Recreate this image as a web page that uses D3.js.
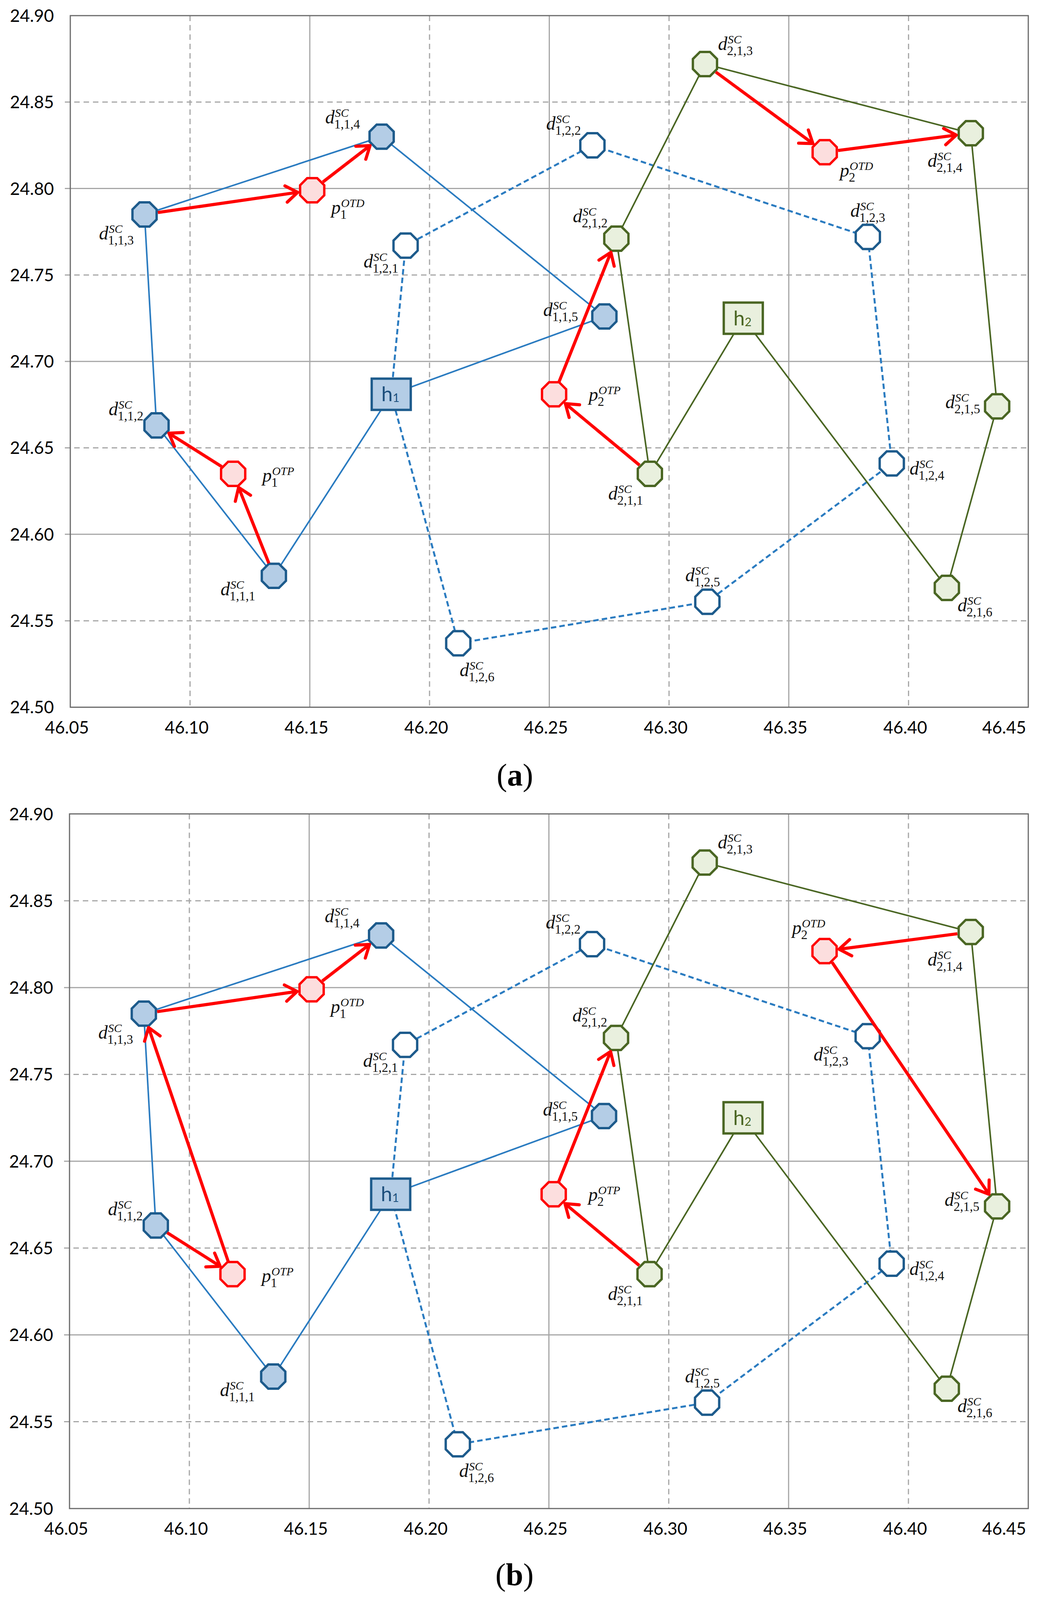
<!DOCTYPE html>
<html>
<head>
<meta charset="UTF-8">
<title>Vehicle routes with parcel transfers</title>
<script src="https://cdnjs.cloudflare.com/ajax/libs/d3/7.8.5/d3.min.js"></script>
<style>
  body { margin: 0; background: #ffffff; overflow: hidden; }
  svg { display: block; }
  .tick-label { font-family: Lato, "Open Sans", sans-serif; font-size: 44px; fill: #000; }
  .lbl-base { font-family: "Liberation Serif", serif; font-style: italic; font-size: 48px; fill: #111; }
  .lbl-sup { font-family: "Liberation Serif", serif; font-style: italic; font-size: 30px; fill: #111; }
  .lbl-sub { font-family: "Liberation Serif", serif; font-size: 33px; fill: #111; }
  .caption { font-family: "Liberation Serif", serif; font-size: 80px; fill: #000; }
</style>
</head>
<body>
<div id="draw-here"></div>
<script>

// Axis ticks
var xTicks = [46.05, 46.10, 46.15, 46.20, 46.25, 46.30, 46.35, 46.40, 46.45];
var yTicks = [24.50, 24.55, 24.60, 24.65, 24.70, 24.75, 24.80, 24.85, 24.90];

// Depots
var depotIds = ["h1", "h2"];
var depotLon = [46.184, 46.331];
var depotLat = [24.681, 24.725];

// Vehicle 1, route 1 (solid blue)
var route11Ids = ["d111", "d112", "d113", "d114", "d115"];
var route11Lon = [46.135, 46.086, 46.081, 46.180, 46.273];
var route11Lat = [24.576, 24.663, 24.785, 24.830, 24.726];

// Vehicle 1, route 2 (dashed blue)
var route12Ids = ["d121", "d122", "d123", "d124", "d125", "d126"];
var route12Lon = [46.190, 46.268, 46.383, 46.393, 46.316, 46.212];
var route12Lat = [24.767, 24.825, 24.772, 24.641, 24.561, 24.537];

// Vehicle 2, route 1 (green)
var route21Ids = ["d211", "d212", "d213", "d214", "d215", "d216"];
var route21Lon = [46.292, 46.278, 46.315, 46.426, 46.437, 46.416];
var route21Lat = [24.635, 24.771, 24.872, 24.832, 24.674, 24.569];

// Parcel pick-up / drop-off points
var parcelIds = ["p1OTP", "p1OTD", "p2OTP", "p2OTD"];
var parcelLon = [46.118, 46.151, 46.252, 46.365];
var parcelLat = [24.635, 24.799, 24.681, 24.821];

// Parcel moves (red arrows) in each panel
var movesA = [["d111", "p1OTP"], ["p1OTP", "d112"], ["d113", "p1OTD"], ["p1OTD", "d114"],
              ["d211", "p2OTP"], ["p2OTP", "d212"], ["d213", "p2OTD"], ["p2OTD", "d214"]];
var movesB = [["d112", "p1OTP"], ["p1OTP", "d113"], ["d113", "p1OTD"], ["p1OTD", "d114"],
              ["d211", "p2OTP"], ["p2OTP", "d212"], ["d214", "p2OTD"], ["p2OTD", "d215"]];

// Where each node label sits, relative to its node (px)
var labelOffsetA = {
    d111: [-92, 38], d112: [-78, -38], d113: [-72, 52], d114: [-100, -46], d115: [-112, -13],
    d121: [-63, 44], d122: [-74, -52], d123: [0, -64], d124: [90, 17], d125: [-12, -64], d126: [48, 72],
    d211: [-62, 54], d212: [-67, -54], d213: [78, -48], d214: [-66, 74], d215: [-88, -7], d216: [72, 48],
    p1OTP: [114, 8], p1OTD: [90, 48], p2OTP: [128, 5], p2OTD: [80, 50]
};
var labelOffsetB = Object.assign({}, labelOffsetA, {
    d123: [-94, 50], p2OTD: [-42, -56], d215: [-90, -13]
});

var W = 2663, H = 4199;
// the browser may show less than H; keep the whole figure in view
var fy = Math.min(1, (window.innerHeight || H) / H);

var panels = [
    { left: 180, right: 2633, top: 41, bottom: 1856, captionY: 2062, letter: "a", moves: movesA, offsets: labelOffsetA },
    { left: 178, right: 2633, top: 2136, bottom: 3959, captionY: 4160, letter: "b", moves: movesB, offsets: labelOffsetB }
];

var blueLine = "#2a7bc0", blueDark = "#1d5b8c", blueFill = "#b4cde6";
var greenLine = "#4a6623", greenFill = "#e9f0de";
var red = "#ff0000", redFill = "#fcdede";
var gridColor = "#a6a6a6";

var svg = d3.select("#draw-here")
    .append("svg")
    .attr("width", W)
    .attr("height", Math.floor(H * fy));

// Open chevron arrow head
svg.append("defs").append("marker")
    .attr("id", "chev")
    .attr("markerUnits", "userSpaceOnUse")
    .attr("viewBox", "-42 -30 50 60")
    .attr("markerWidth", 50)
    .attr("markerHeight", 60)
    .attr("refX", 0)
    .attr("refY", 0)
    .attr("orient", "auto")
    .append("path")
    .attr("d", "M-30,-21 L0,0 L-30,21")
    .attr("fill", "none")
    .attr("stroke", red)
    .attr("stroke-width", 8)
    .attr("stroke-linecap", "round")
    .attr("stroke-linejoin", "round");

var R = 33.5;   // octagon radius

function octagon(r) {
    var pts = d3.range(8).map(function(k) {
        var a = Math.PI / 8 + k * Math.PI / 4;
        return [r * Math.cos(a), r * Math.sin(a)];
    });
    return "M" + pts.join("L") + "Z";
}

function labelParts(id) {
    if (id[0] === "d")
        return ["d", "SC", id.slice(1).split("").join(",")];
    return ["p", id.slice(2), id[1]];
}

function buildPoints(ids, lon, lat) {
    return ids.map(function(id, i) { return { id: id, lon: lon[i], lat: lat[i] }; });
}

var depots = buildPoints(depotIds, depotLon, depotLat);
var route11 = buildPoints(route11Ids, route11Lon, route11Lat);
var route12 = buildPoints(route12Ids, route12Lon, route12Lat);
var route21 = buildPoints(route21Ids, route21Lon, route21Lat);
var parcels = buildPoints(parcelIds, parcelLon, parcelLat);

var lookup = {};
[depots, route11, route12, route21, parcels].forEach(function(list) {
    list.forEach(function(p) { lookup[p.id] = p; });
});

panels.forEach(drawPanel);

function drawPanel(p) {
    var top = p.top * fy, bottom = p.bottom * fy;
    var x = d3.scaleLinear().domain([46.05, 46.45]).range([p.left, p.right]);
    var y = d3.scaleLinear().domain([24.50, 24.90]).range([bottom, top]);
    var g = svg.append("g");

    // Grid lines: solid every 0.10, dashed in between
    g.selectAll(".vgrid").data(xTicks.slice(1, -1)).enter().append("line")
        .attr("x1", function(d) { return x(d); })
        .attr("x2", function(d) { return x(d); })
        .attr("y1", top).attr("y2", bottom)
        .attr("stroke", gridColor).attr("stroke-width", 3)
        .attr("stroke-dasharray", function(d, i) { return i % 2 === 0 ? "14,10" : null; });

    g.selectAll(".hgrid").data(yTicks.slice(1, -1)).enter().append("line")
        .attr("x1", p.left - 14).attr("x2", p.right)
        .attr("y1", function(d) { return y(d); })
        .attr("y2", function(d) { return y(d); })
        .attr("stroke", gridColor).attr("stroke-width", 3)
        .attr("stroke-dasharray", function(d, i) { return i % 2 === 0 ? "14,10" : null; });

    // Frame
    g.append("rect")
        .attr("x", p.left).attr("y", top)
        .attr("width", p.right - p.left).attr("height", bottom - top)
        .attr("fill", "none").attr("stroke", "#6a6a6a").attr("stroke-width", 3);

    // Axes (labels only)
    var yAxis = g.append("g")
        .attr("transform", "translate(" + p.left + ",0)")
        .call(d3.axisLeft(y).tickValues(yTicks).tickFormat(d3.format(".2f")).tickSize(0).tickPadding(42));
    var xAxis = g.append("g")
        .attr("transform", "translate(0," + bottom + ")")
        .call(d3.axisBottom(x).tickValues(xTicks).tickFormat(d3.format(".2f")).tickSize(0).tickPadding(36));
    [xAxis, yAxis].forEach(function(a) {
        a.select(".domain").remove();
        a.selectAll("text").attr("class", "tick-label").attr("font-size", null).attr("font-family", null);
    });
    xAxis.selectAll("text").attr("dx", -9);
    yAxis.selectAll("text").attr("dy", "0.35em");
    // keep the last x label inside the picture
    xAxis.selectAll(".tick").filter(function(d, i) { return i === xTicks.length - 1; })
        .select("text").attr("text-anchor", "end").attr("dx", W - 36 - p.right);

    // Routes
    var line = d3.line()
        .x(function(d) { return x(d.lon); })
        .y(function(d) { return y(d.lat); });

    var h1 = depots[0], h2 = depots[1];
    g.append("path").datum([h1].concat(route12, [h1]))
        .attr("d", line).attr("fill", "none")
        .attr("stroke", blueLine).attr("stroke-width", 5).attr("stroke-dasharray", "14,8");
    g.append("path").datum([h1].concat(route11, [h1]))
        .attr("d", line).attr("fill", "none")
        .attr("stroke", blueLine).attr("stroke-width", 4);
    g.append("path").datum([h2].concat(route21, [h2]))
        .attr("d", line).attr("fill", "none")
        .attr("stroke", greenLine).attr("stroke-width", 4);

    // Nodes
    function drawNodes(list, fill, stroke) {
        g.selectAll(null).data(list).enter().append("path")
            .attr("d", octagon(R))
            .attr("transform", function(d) { return "translate(" + x(d.lon) + "," + y(d.lat) + ")"; })
            .attr("fill", fill).attr("stroke", stroke).attr("stroke-width", 6);
    }
    drawNodes(route11, blueFill, blueDark);
    drawNodes(route12, "#ffffff", blueDark);
    drawNodes(route21, greenFill, greenLine);
    drawNodes(parcels, redFill, red);

    // Depots
    var depotStyle = { h1: [blueFill, blueDark, "#1d4f7c"], h2: [greenFill, greenLine, greenLine] };
    depots.forEach(function(d) {
        var st = depotStyle[d.id];
        var cx = x(d.lon), cy = y(d.lat);
        g.append("rect")
            .attr("x", cx - 50).attr("y", cy - 40)
            .attr("width", 100).attr("height", 80)
            .attr("fill", st[0]).attr("stroke", st[1]).attr("stroke-width", 6);
        var t = g.append("text")
            .attr("x", cx - 2).attr("y", cy + 18)
            .attr("text-anchor", "middle")
            .attr("font-family", "Lato, sans-serif")
            .attr("font-size", 52)
            .attr("fill", st[2]);
        t.append("tspan").text("h");
        t.append("tspan").attr("font-size", 30).attr("dy", 2).text(d.id.slice(1));
    });

    // Parcel moves
    g.selectAll(null).data(p.moves).enter().append("line")
        .each(function(m) {
            var a = lookup[m[0]], b = lookup[m[1]];
            var x1 = x(a.lon), y1 = y(a.lat), x2 = x(b.lon), y2 = y(b.lat);
            var len = Math.hypot(x2 - x1, y2 - y1);
            var ux = (x2 - x1) / len, uy = (y2 - y1) / len;
            d3.select(this)
                .attr("x1", x1 + ux * (R + 1)).attr("y1", y1 + uy * (R + 1))
                .attr("x2", x2 - ux * (R + 4)).attr("y2", y2 - uy * (R + 4));
        })
        .attr("stroke", red).attr("stroke-width", 8)
        .attr("marker-end", "url(#chev)");

    // Node labels
    Object.keys(p.offsets).forEach(function(id) {
        var d = lookup[id], off = p.offsets[id];
        var parts = labelParts(id);
        var lg = g.append("g");
        var base = lg.append("text").attr("class", "lbl-base").attr("x", 0).attr("y", 0).text(parts[0]);
        var bw = base.node().getComputedTextLength();
        lg.append("text").attr("class", "lbl-sup").attr("x", bw + 1).attr("y", -17).text(parts[1]);
        lg.append("text").attr("class", "lbl-sub").attr("x", bw - 1).attr("y", 13).text(parts[2]);
        var bb = lg.node().getBBox();
        var tx = x(d.lon) + off[0] - (bb.x + bb.width / 2);
        var ty = y(d.lat) + off[1] - (bb.y + bb.height / 2);
        lg.attr("transform", "translate(" + tx + "," + ty + ")");
    });

    // Caption
    var cap = g.append("text")
        .attr("class", "caption")
        .attr("x", (p.left + p.right) / 2 - 88)
        .attr("y", p.captionY * fy)
        .attr("text-anchor", "middle");
    cap.append("tspan").text("(");
    cap.append("tspan").attr("font-weight", "bold").text(p.letter);
    cap.append("tspan").text(")");
}

</script>
</body>
</html>
